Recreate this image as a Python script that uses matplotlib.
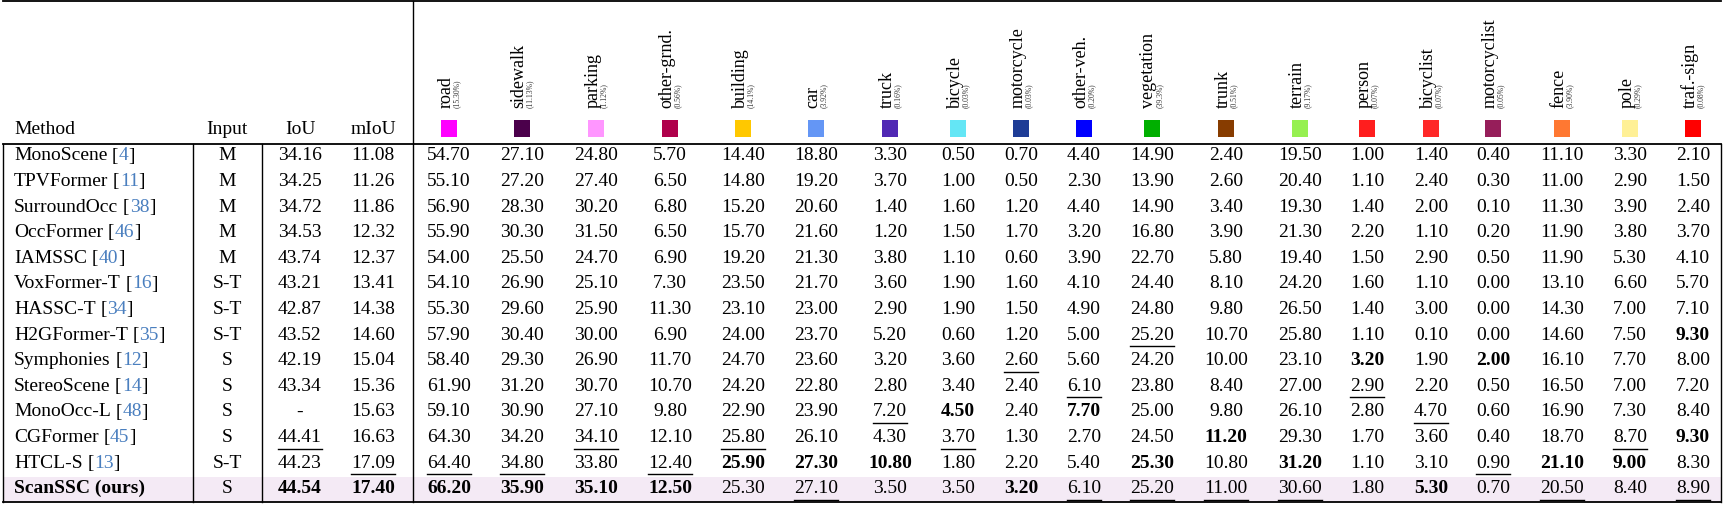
import matplotlib
matplotlib.use("Agg")
import matplotlib.pyplot as plt
from matplotlib.patches import Rectangle

methods = ["MonoScene", "TPVFormer", "SurroundOcc", "OccFormer", "IAMSSC", "VoxFormer-T",
           "HASSC-T", "H2GFormer-T", "Symphonies", "StereoScene", "MonoOcc-L", "CGFormer",
           "HTCL-S", "ScanSSC (ours)"]
refs = ["4", "11", "38", "46", "40", "16", "34", "35", "12", "14", "48", "45", "13", ""]
inputs = ["M", "M", "M", "M", "M", "S-T", "S-T", "S-T", "S", "S", "S", "S", "S-T", "S"]
iou = ["34.16", "34.25", "34.72", "34.53", "43.74", "43.21", "42.87", "43.52", "42.19", "43.34", "-", "44.41", "44.23", "44.54"]
miou = ["11.08", "11.26", "11.86", "12.32", "12.37", "13.41", "14.38", "14.60", "15.04", "15.36", "15.63", "16.63", "17.09", "17.40"]
classes = ["road", "sidewalk", "parking", "other-grnd.", "building", "car", "truck", "bicycle",
           "motorcycle", "other-veh.", "vegetation", "trunk", "terrain", "person", "bicyclist",
           "motorcyclist", "fence", "pole", "traf.-sign"]
freqs = ["15.30%", "11.13%", "1.12%", "0.56%", "14.1%", "3.92%", "0.16%", "0.03%", "0.03%",
         "0.20%", "39.3%", "0.51%", "9.17%", "0.07%", "0.07%", "0.05%", "3.90%", "0.29%", "0.08%"]
class_colors = ["#ff00ff", "#4b004b", "#ff96ff", "#af004b", "#ffc800", "#6496f5", "#5028b4",
                "#64e6f5", "#1e3c96", "#0000ff", "#00af00", "#873c00", "#96f050", "#ff1e1e",
                "#ff2828", "#961e5a", "#ff7832", "#fff096", "#ff0000"]
scores = [
    [54.70, 27.10, 24.80, 5.70, 14.40, 18.80, 3.30, 0.50, 0.70, 4.40, 14.90, 2.40, 19.50, 1.00, 1.40, 0.40, 11.10, 3.30, 2.10],
    [55.10, 27.20, 27.40, 6.50, 14.80, 19.20, 3.70, 1.00, 0.50, 2.30, 13.90, 2.60, 20.40, 1.10, 2.40, 0.30, 11.00, 2.90, 1.50],
    [56.90, 28.30, 30.20, 6.80, 15.20, 20.60, 1.40, 1.60, 1.20, 4.40, 14.90, 3.40, 19.30, 1.40, 2.00, 0.10, 11.30, 3.90, 2.40],
    [55.90, 30.30, 31.50, 6.50, 15.70, 21.60, 1.20, 1.50, 1.70, 3.20, 16.80, 3.90, 21.30, 2.20, 1.10, 0.20, 11.90, 3.80, 3.70],
    [54.00, 25.50, 24.70, 6.90, 19.20, 21.30, 3.80, 1.10, 0.60, 3.90, 22.70, 5.80, 19.40, 1.50, 2.90, 0.50, 11.90, 5.30, 4.10],
    [54.10, 26.90, 25.10, 7.30, 23.50, 21.70, 3.60, 1.90, 1.60, 4.10, 24.40, 8.10, 24.20, 1.60, 1.10, 0.00, 13.10, 6.60, 5.70],
    [55.30, 29.60, 25.90, 11.30, 23.10, 23.00, 2.90, 1.90, 1.50, 4.90, 24.80, 9.80, 26.50, 1.40, 3.00, 0.00, 14.30, 7.00, 7.10],
    [57.90, 30.40, 30.00, 6.90, 24.00, 23.70, 5.20, 0.60, 1.20, 5.00, 25.20, 10.70, 25.80, 1.10, 0.10, 0.00, 14.60, 7.50, 9.30],
    [58.40, 29.30, 26.90, 11.70, 24.70, 23.60, 3.20, 3.60, 2.60, 5.60, 24.20, 10.00, 23.10, 3.20, 1.90, 2.00, 16.10, 7.70, 8.00],
    [61.90, 31.20, 30.70, 10.70, 24.20, 22.80, 2.80, 3.40, 2.40, 6.10, 23.80, 8.40, 27.00, 2.90, 2.20, 0.50, 16.50, 7.00, 7.20],
    [59.10, 30.90, 27.10, 9.80, 22.90, 23.90, 7.20, 4.50, 2.40, 7.70, 25.00, 9.80, 26.10, 2.80, 4.70, 0.60, 16.90, 7.30, 8.40],
    [64.30, 34.20, 34.10, 12.10, 25.80, 26.10, 4.30, 3.70, 1.30, 2.70, 24.50, 11.20, 29.30, 1.70, 3.60, 0.40, 18.70, 8.70, 9.30],
    [64.40, 34.80, 33.80, 12.40, 25.90, 27.30, 10.80, 1.80, 2.20, 5.40, 25.30, 10.80, 31.20, 1.10, 3.10, 0.90, 21.10, 9.00, 8.30],
    [66.20, 35.90, 35.10, 12.50, 25.30, 27.10, 3.50, 3.50, 3.20, 6.10, 25.20, 11.00, 30.60, 1.80, 5.30, 0.70, 20.50, 8.40, 8.90],
]
# emphasis per row: (column key, 'b' bold / 'u' underline); keys: 'name','iou','miou' or class index
emphasis = {
    7: [(10, 'u'), (18, 'b')],
    8: [(8, 'u'), (13, 'b'), (15, 'b')],
    9: [(9, 'u'), (13, 'u')],
    10: [(6, 'u'), (7, 'b'), (9, 'b'), (14, 'u')],
    11: [('iou', 'u'), (2, 'u'), (4, 'u'), (7, 'u'), (11, 'b'), (17, 'u'), (18, 'b')],
    12: [('miou', 'u'), (0, 'u'), (1, 'u'), (3, 'u'), (4, 'b'), (5, 'b'), (6, 'b'), (10, 'b'),
         (12, 'b'), (15, 'u'), (16, 'b'), (17, 'b')],
    13: [('name', 'b'), ('iou', 'b'), ('miou', 'b'), (0, 'b'), (1, 'b'), (2, 'b'), (3, 'b'), (5, 'u'),
         (8, 'b'), (9, 'u'), (10, 'u'), (11, 'u'), (12, 'u'), (14, 'b'), (16, 'u'), (18, 'u')],
}

W, H = 1724, 505
fig = plt.figure(figsize=(W / 100, H / 100), dpi=100)
ax = fig.add_axes([0, 0, 1, 1])
ax.set_xlim(0, W)
ax.set_ylim(H, 0)
ax.axis("off")
FONT = "Liberation Serif"
FS = 14
fig.canvas.draw()
renderer = fig.canvas.get_renderer()
inv = ax.transData.inverted()

def put(x, y, s, ha="center", bold=False, underline=False, color="black", fs=FS):
    t = ax.text(x, y, s, ha=ha, va="center", fontsize=fs, family=FONT,
                fontweight="bold" if bold else "normal", color=color)
    if underline:
        bb = t.get_window_extent(renderer)
        (x0, _), (x1, _) = inv.transform([(bb.x0, 0), (bb.x1, 0)])
        ax.plot([x0, x1], [y + 11, y + 11], color="black", lw=1)
    return t

def right_edge(t):
    bb = t.get_window_extent(renderer)
    return inv.transform([(bb.x1, 0)])[0][0]

x_method = 14
x_input, x_iou, x_miou = 227, 300, 373
class_x = [449, 522, 596, 670, 743, 816, 890, 958, 1021, 1084, 1152, 1226, 1300, 1367, 1431, 1493, 1562, 1630, 1693]
y_head = 130
row_y0, row_h = 156, 25.6
y_header_line, y_bottom = 144, 502

ax.add_patch(Rectangle((3, y_bottom - 25.5), W - 6, 25.5, facecolor="#f4eaf5", edgecolor="none", zorder=0))

ax.plot([3, W - 3], [1, 1], color="black", lw=1.3)
ax.plot([3, W - 3], [y_header_line, y_header_line], color="black", lw=1.3)
ax.plot([3, W - 3], [y_bottom, y_bottom], color="black", lw=1.3)
for xv in [3, W - 3, 193, 262]:
    ax.plot([xv, xv], [y_header_line, y_bottom], color="black", lw=1)
ax.plot([413, 413], [1, y_bottom], color="black", lw=1)

put(x_method, y_head, "Method", ha="left")
put(x_input, y_head, "Input")
put(x_iou, y_head, "IoU")
put(x_miou, y_head, "mIoU")
for i, (c, f, col) in enumerate(zip(classes, freqs, class_colors)):
    x = class_x[i]
    ax.text(x - 3, 108, c, rotation=90, ha="center", va="bottom", fontsize=13, family=FONT)
    ax.text(x + 8, 108, f"({f})", rotation=90, ha="center", va="bottom", fontsize=5.5, family=FONT, color="#333333")
    ax.add_patch(Rectangle((x - 8, 120), 16, 17, facecolor=col, edgecolor="none"))

for r in range(len(methods)):
    y = row_y0 + r * row_h
    emph = dict(emphasis.get(r, []))
    t = put(x_method, y, methods[r], ha="left", bold=emph.get('name') == 'b')
    if refs[r]:
        t2 = put(right_edge(t), y, " [", ha="left")
        t3 = put(right_edge(t2), y, refs[r], ha="left", color="#4a7fbf")
        put(right_edge(t3), y, "]", ha="left")
    put(x_input, y, inputs[r])
    e = emph.get('iou')
    put(x_iou, y, iou[r], bold=e == 'b', underline=e == 'u')
    e = emph.get('miou')
    put(x_miou, y, miou[r], bold=e == 'b', underline=e == 'u')
    for i, v in enumerate(scores[r]):
        e = emph.get(i)
        put(class_x[i], y, f"{v:.2f}", bold=e == 'b', underline=e == 'u')

fig.savefig("out.png", dpi=100)
